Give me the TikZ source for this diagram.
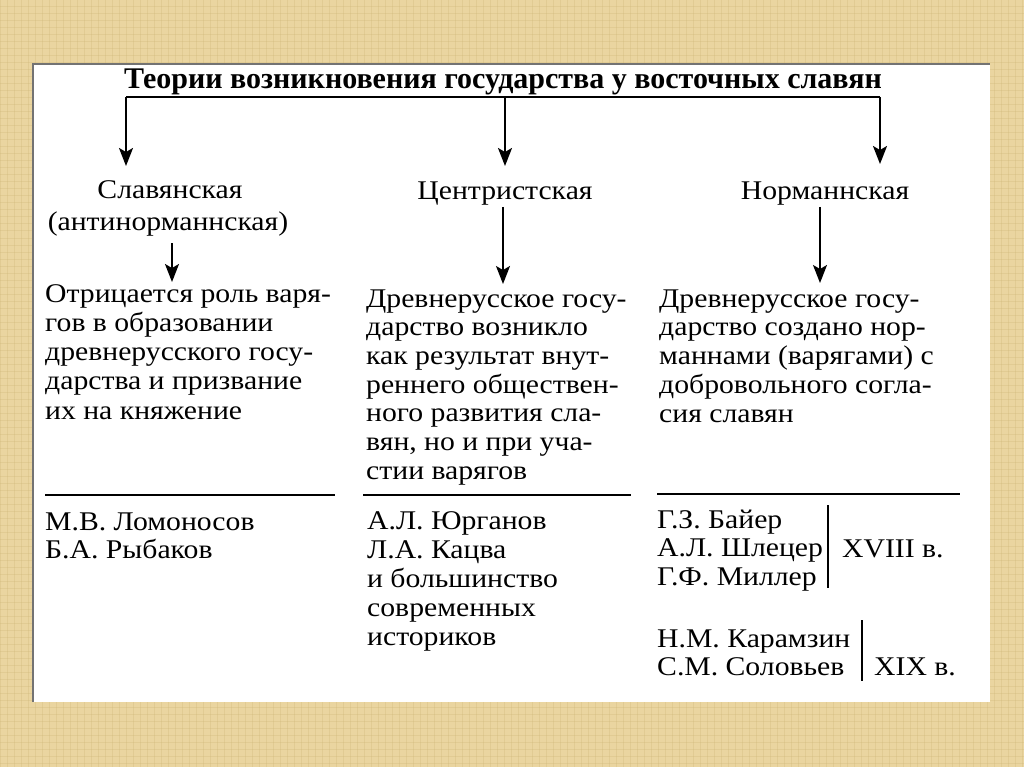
\documentclass[tikz,border=0pt]{standalone}
\usepackage{fontspec}
\setmainfont{Liberation Serif}[FakeStretch=1.1]
\newfontfamily\titlefont{Liberation Serif}
\usetikzlibrary{calc}
\usetikzlibrary{arrows.meta}

\definecolor{paper}{RGB}{234,213,160}
\definecolor{paperdark}{RGB}{205,180,120}

\begin{document}
\begin{tikzpicture}[x=1pt, y=-1pt, >={Stealth[length=18pt,width=14pt,inset=4pt]}]
\tikzset{txt/.style={anchor=base west,inner sep=0,font=\fontsize{27}{29}\selectfont}}
\tikzset{head/.style={anchor=base,inner sep=0,font=\fontsize{27}{29}\selectfont}}
\tikzset{rule/.style={-,line width=1.6pt}}
\tikzset{bar/.style={-,line width=1.3pt}}
\useasboundingbox (0,0) rectangle (1024,767);

% background - woven paper
\fill[paper] (0,0) rectangle (1024,767);
\foreach \i in {0,7,...,1024}
  \draw[paperdark, line width=1pt, opacity=.3] (\i,0) -- (\i,767);
\foreach \j in {0,7,...,767}
  \draw[paperdark, line width=1pt, opacity=.3] (0,\j) -- (1024,\j);
\fill[white] (33,64) rectangle (990,702);
\draw[black!55, line width=1.5pt] (33,702) -- (33,64) -- (990,64);

% title and the three branches
\node[anchor=base, inner sep=0, font=\titlefont\bfseries\fontsize{30}{32}\selectfont] (title) at (503,89) {Теории возникновения государства у восточных славян};

\coordinate (t1) at (126,97);
\coordinate (t2) at (505,97);
\coordinate (t3) at (880,97);
\coordinate (a1) at (126,166);
\coordinate (a2) at (505,166);
\coordinate (a3) at (880,164);

\draw[line width=2pt] (t1) -- (t3);
\draw[->, line width=2pt] (t1) -- (a1);
\draw[->, line width=2pt] (t2) -- (a2);
\draw[->, line width=2pt] (t3) -- (a3);

% headings
\node[head] (hd1) at (170,199) {Славянская};
\node[head] (hd1b) at (168,230) {(антинорманнская)};
\node[head] (hd2) at (505,200) {Центристская};
\node[head] (hd3) at (825,200) {Норманнская};

\coordinate (s1) at (172,243);
\coordinate (e1) at (172,282);
\coordinate (s2) at (503,207);
\coordinate (e2) at (503,284);
\coordinate (s3) at (820,207);
\coordinate (e3) at (820,283);

\draw[->, line width=1.5pt] (s1) -- (e1);
\draw[->, line width=1.5pt] (s2) -- (e2);
\draw[->, line width=1.5pt] (s3) -- (e3);

% texts
\foreach \t [count=\i] in {Отрицается роль варя-, гов в образовании, древнерусского госу-, дарства и призвание, их на княжение}
  \node[txt] (sl-\i) at (45,{302+29.3*(\i-1)}) {\t};
\foreach \t [count=\i] in {Древнерусское госу-, дарство возникло, как результат внут-, реннего обществен-, ного развития сла-, {вян, но и при уча-}, стии варягов}
  \node[txt] (ce-\i) at (366,{307+28.7*(\i-1)}) {\t};
\foreach \t [count=\i] in {Древнерусское госу-, дарство создано нор-, маннами (варягами) с, добровольного согла-, сия славян}
  \node[txt] (no-\i) at (659,{307+28.8*(\i-1)}) {\t};

% rules
\draw[rule] (45,495) -- (335,495);
\draw[rule] (363,495) -- (631,495);
\draw[rule] (657,494) -- (960,494);

% historians
\foreach \t [count=\i] in {М.В. Ломоносов, Б.А. Рыбаков}
  \node[txt] (hs-\i) at (45,{530+28.5*(\i-1)}) {\t};
\foreach \t [count=\i] in {А.Л. Юрганов, Л.А. Кацва, и большинство, современных, историков}
  \node[txt] (hc-\i) at (367,{529+29.1*(\i-1)}) {\t};
\foreach \t [count=\i] in {Г.З. Байер, А.Л. Шлецер, Г.Ф. Миллер}
  \node[txt] (hn-\i) at (657,{528+28.8*(\i-1)}) {\t};
\node[txt] (c18) at (842,557) {XVIII в.};
\draw[bar] (828,505) -- (828,588);

\foreach \t [count=\i] in {Н.М. Карамзин, С.М. Соловьев}
  \node[txt] (hm-\i) at (657,{647+28*(\i-1)}) {\t};
\node[txt] (c19) at (874,675) {XIX в.};
\draw[bar] (862,620) -- (862,681);

\end{tikzpicture}
\end{document}
